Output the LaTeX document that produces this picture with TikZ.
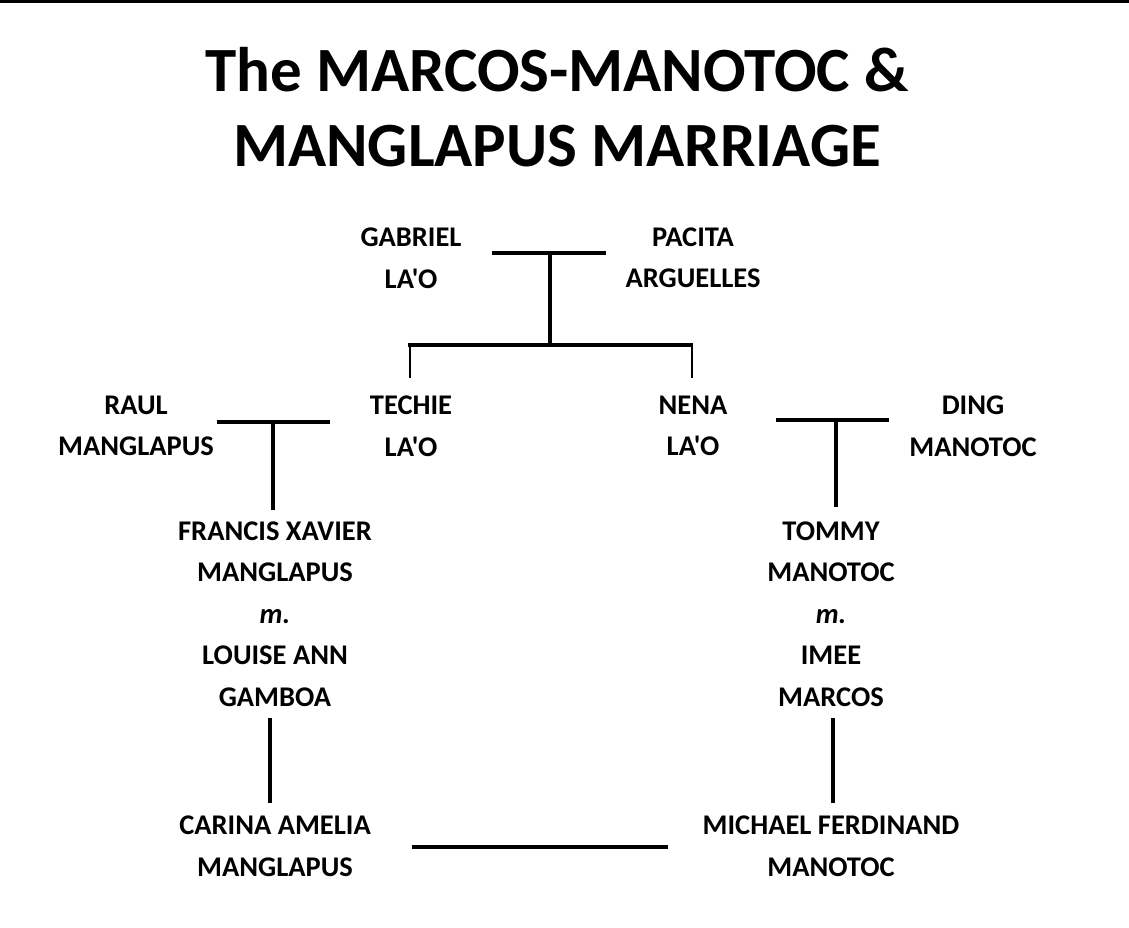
\documentclass[tikz,border=0pt]{standalone}
\usepackage{fontspec}
\setmainfont{Carlito}[Ligatures=TeXOff]
\begin{document}
\begin{tikzpicture}[x=1pt,y=-1pt,
  lbl/.style={font=\fontsize{28.5}{41.5}\selectfont\bfseries,align=center,inner sep=0pt},
  ttl/.style={font=\fontsize{63}{75}\selectfont\bfseries,align=center,inner sep=0pt},
  ln/.style={line width=4.5pt},
  thin/.style={line width=2.5pt}]
\useasboundingbox (0,0) rectangle (1129,927);
\draw[line width=3pt] (0,1.5) -- (1129,1.5);
\node[ttl] (title) at (557,107) {The MARCOS-MANOTOC \&\\MANGLAPUS MARRIAGE};
\node[lbl] (gab) at (411,258) {GABRIEL\\LA'O};
\node[lbl] (pac) at (693,258) {PACITA\\ARGUELLES};
\node[lbl] (raul) at (136,426) {RAUL\\MANGLAPUS};
\node[lbl] (tech) at (411,426) {TECHIE\\LA'O};
\node[lbl] (nena) at (693,426) {NENA\\LA'O};
\node[lbl] (ding) at (973,426) {DING\\MANOTOC};
\node[lbl] (fx) at (275,614) {FRANCIS XAVIER\\MANGLAPUS\\\textit{m.}\\LOUISE ANN\\GAMBOA};
\node[lbl] (tom) at (831,614) {TOMMY\\MANOTOC\\\textit{m.}\\IMEE\\MARCOS};
\node[lbl] (car) at (275,846) {CARINA AMELIA\\MANGLAPUS};
\node[lbl] (mic) at (831,846) {MICHAEL FERDINAND\\MANOTOC};
\coordinate (m1) at (550,253);
\coordinate (s1) at (550,345);
\coordinate (m2) at (273,422);
\coordinate (m3) at (836,420);
\draw[ln] (492,253) -- (606,253);
\draw[ln] (m1) -- (s1);
\draw[ln] (408,345) -- (693,345);
\draw[thin] (410,345) -- (410,378);
\draw[thin] (692,345) -- (692,378);
\draw[ln] (217,422) -- (330,422);
\draw[ln] (m2) -- (273,510);
\draw[ln] (776,420) -- (889,420);
\draw[ln] (m3) -- (836,507);
\draw[ln] (270,718) -- (270,803);
\draw[ln] (833,718) -- (833,803);
\draw[ln] (412,847) -- (668,847);
\end{tikzpicture}
\end{document}
